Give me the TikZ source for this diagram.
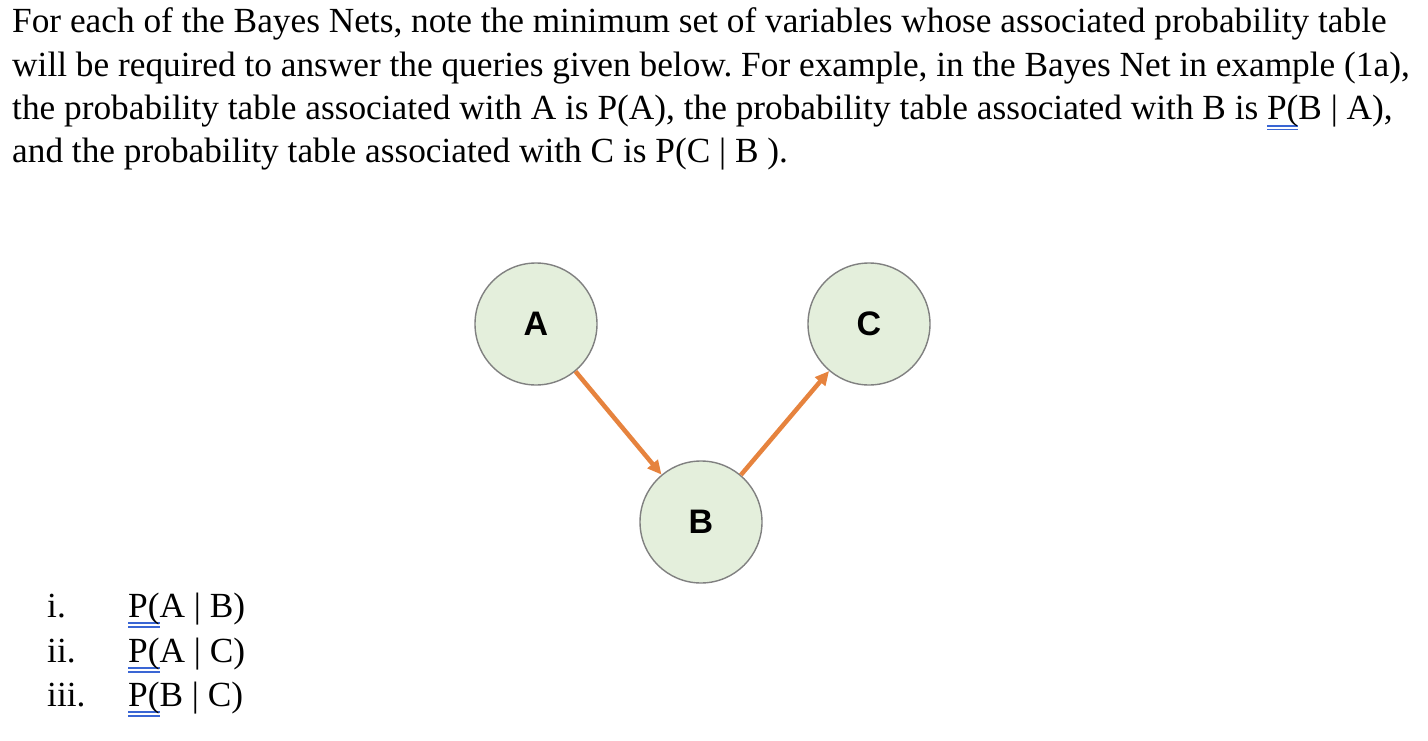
\documentclass[tikz,border=0pt]{standalone}
\usepackage{fontspec}
\setmainfont{Liberation Serif}
\newfontfamily\arial{Liberation Sans}
\usetikzlibrary{arrows.meta}
\definecolor{ulblue}{HTML}{3A66D4}
\definecolor{nodefill}{HTML}{E4EFDC}
\definecolor{nodeline}{HTML}{808080}
\definecolor{arr}{HTML}{E6833E}
\newlength\dulw
\newcommand\dulP[1]{\settowidth\dulw{#1}\rlap{\color{ulblue}\rule[-7pt]{\dulw}{1.8pt}\llap{\rule[-10.5pt]{\dulw}{1.8pt}}}#1}
\frenchspacing
\tikzset{
 txt/.style={anchor=base west,inner sep=0pt,font=\fontsize{35.3}{40}\selectfont},
 bn/.style={circle,draw=nodeline,line width=1.4pt,fill=nodefill,minimum size=122pt,inner sep=0pt,font=\arial\bfseries\fontsize{34}{40}\selectfont},
 edge/.style={draw=arr,line width=4.5pt,-{Triangle[length=14pt,width=13pt]}}
}
\begin{document}
\begin{tikzpicture}[x=1pt,y=-1pt]
\useasboundingbox (0,0) rectangle (1428,741);
\node[txt] (l1) at (12,33) {For each of the Bayes Nets, note the minimum set of variables whose associated probability table};
\node[txt] (l2) at (12,77) {will be required to answer the queries given below. For example, in the Bayes Net in example (1a),};
\node[txt] (l3) at (12,120) {the probability table associated with A is P(A), the probability table associated with B is \dulP{P(}B | A),};
\node[txt] (l4) at (12,163) {and the probability table associated with C is P(C | B ).};
\node[bn] (A) at (536,324) {A};
\node[bn] (C) at (869,324) {C};
\node[bn] (B) at (701,522) {B};
\draw[edge] (A) -- (B);
\draw[edge] (B) -- (C);
\node[txt] (r1) at (47,617) {i.};
\node[txt] (r2) at (47,662) {ii.};
\node[txt] (r3) at (47,706) {iii.};
\node[txt] (q1) at (128,617) {\dulP{P(}A | B)};
\node[txt] (q2) at (128,662) {\dulP{P(}A | C)};
\node[txt] (q3) at (128,706) {\dulP{P(}B | C)};
\end{tikzpicture}
\end{document}
